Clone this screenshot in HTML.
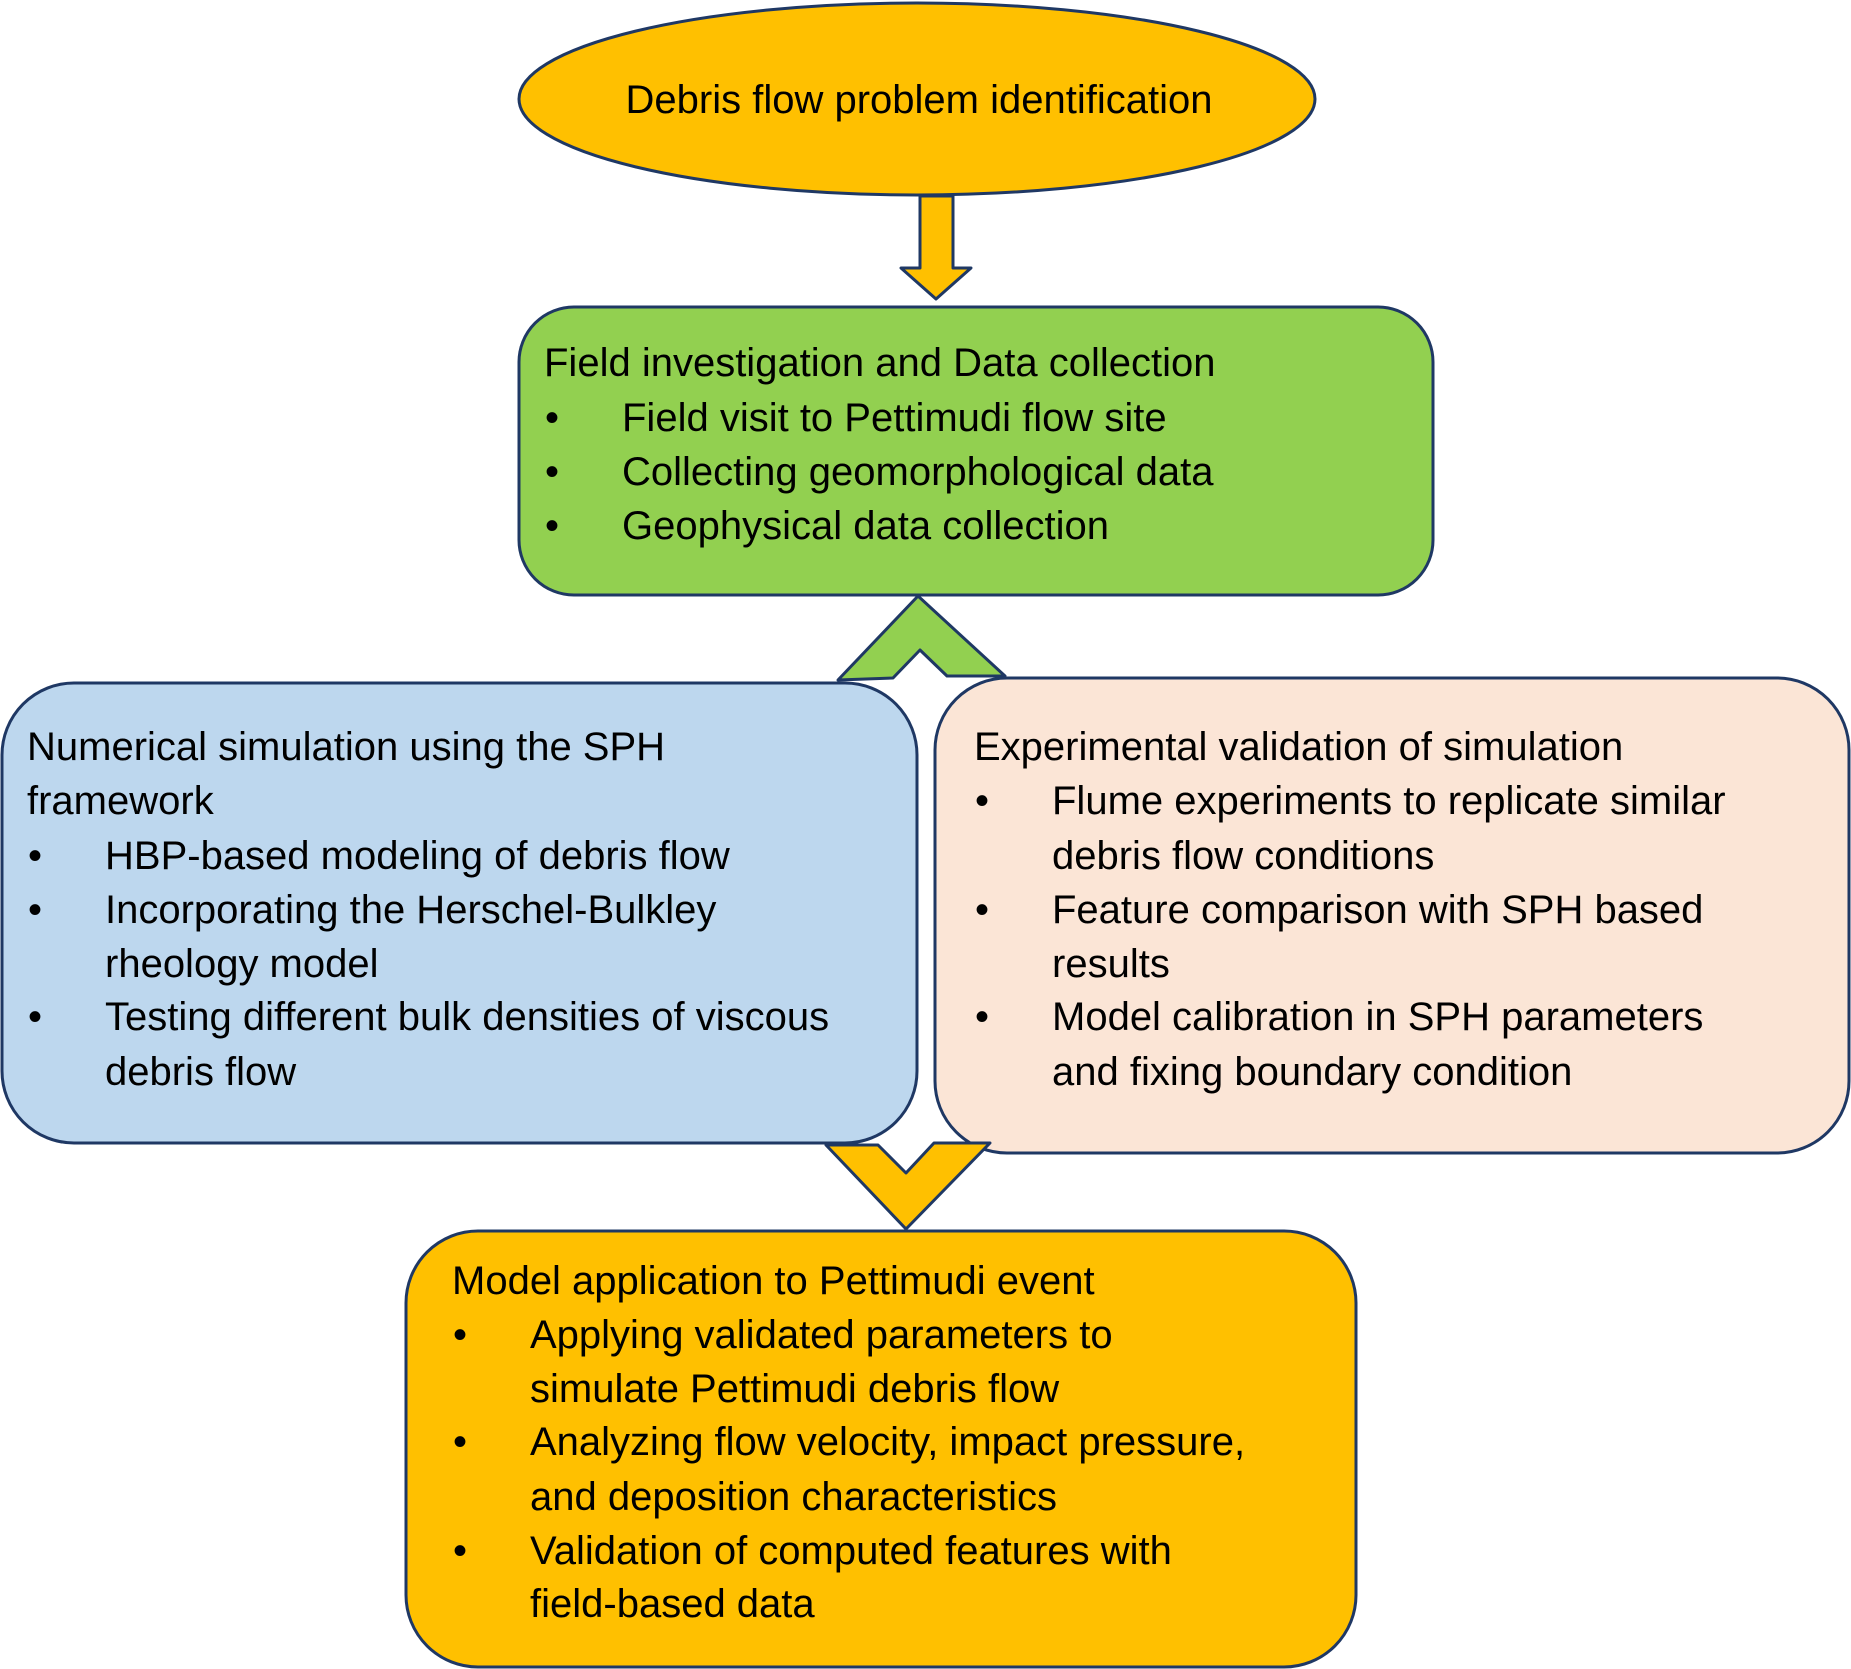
<!DOCTYPE html>
<html><head><meta charset="utf-8"><style>html,body{margin:0;padding:0;background:#fff}svg{display:block}</style></head>
<body>
<svg width="1851" height="1669" viewBox="0 0 1851 1669" xmlns="http://www.w3.org/2000/svg" font-family="Liberation Sans, Arial, sans-serif" font-size="40" fill="#000">
<g stroke="#1F3864" stroke-width="3" stroke-linejoin="round">
<ellipse cx="917" cy="99" rx="398" ry="96" fill="#FFC000"/>
<path d="M920 196 L953 196 L953 268 L971 268 L936 299 L901 268 L920 268 Z" fill="#FFC000"/>
<path d="M918 596 L1005 676 L947 676 L920 650 L893 678 L838 680 Z" fill="#92D050"/>
<rect x="519" y="307" width="914" height="288" rx="55" fill="#92D050"/>
<rect x="2" y="683" width="915" height="460" rx="72" fill="#BDD7EE"/>
<rect x="935" y="678" width="914" height="475" rx="72" fill="#FBE5D6"/>
<path d="M826 1145 L878 1145 L906 1173 L934 1143 L990 1143 L906 1229 Z" fill="#FFC000"/>
<rect x="406" y="1231" width="950" height="436" rx="72" fill="#FFC000"/>
</g>
<text x="919" y="113" text-anchor="middle">Debris flow problem identification</text>
<g>
<text x="544" y="376">Field investigation and Data collection</text>
<text x="545" y="431">•</text><text x="622" y="431">Field visit to Pettimudi flow site</text>
<text x="545" y="485">•</text><text x="622" y="485">Collecting geomorphological data</text>
<text x="545" y="539">•</text><text x="622" y="539">Geophysical data collection</text>
</g>
<g>
<text x="27" y="760">Numerical simulation using the SPH</text>
<text x="27" y="814">framework</text>
<text x="28" y="869">•</text><text x="105" y="869">HBP-based  modeling of debris flow</text>
<text x="28" y="923">•</text><text x="105" y="923">Incorporating the Herschel-Bulkley</text>
<text x="105" y="977">rheology model</text>
<text x="28" y="1030">•</text><text x="105" y="1030">Testing different bulk densities of viscous</text>
<text x="105" y="1085">debris flow</text>
</g>
<g>
<text x="974" y="760">Experimental validation of simulation</text>
<text x="975" y="814">•</text><text x="1052" y="814">Flume experiments to replicate similar</text>
<text x="1052" y="869">debris flow conditions</text>
<text x="975" y="923">•</text><text x="1052" y="923">Feature comparison with SPH based</text>
<text x="1052" y="977">results</text>
<text x="975" y="1030">•</text><text x="1052" y="1030">Model calibration in SPH parameters</text>
<text x="1052" y="1085">and fixing boundary condition</text>
</g>
<g>
<text x="452" y="1294">Model application to Pettimudi event</text>
<text x="453" y="1348">•</text><text x="530" y="1348">Applying validated parameters to</text>
<text x="530" y="1402">simulate Pettimudi debris flow</text>
<text x="453" y="1455">•</text><text x="530" y="1455">Analyzing flow velocity, impact pressure,</text>
<text x="530" y="1510">and deposition characteristics</text>
<text x="453" y="1564">•</text><text x="530" y="1564">Validation of computed features with</text>
<text x="530" y="1617">field-based data</text>
</g>
</svg>
</body></html>
